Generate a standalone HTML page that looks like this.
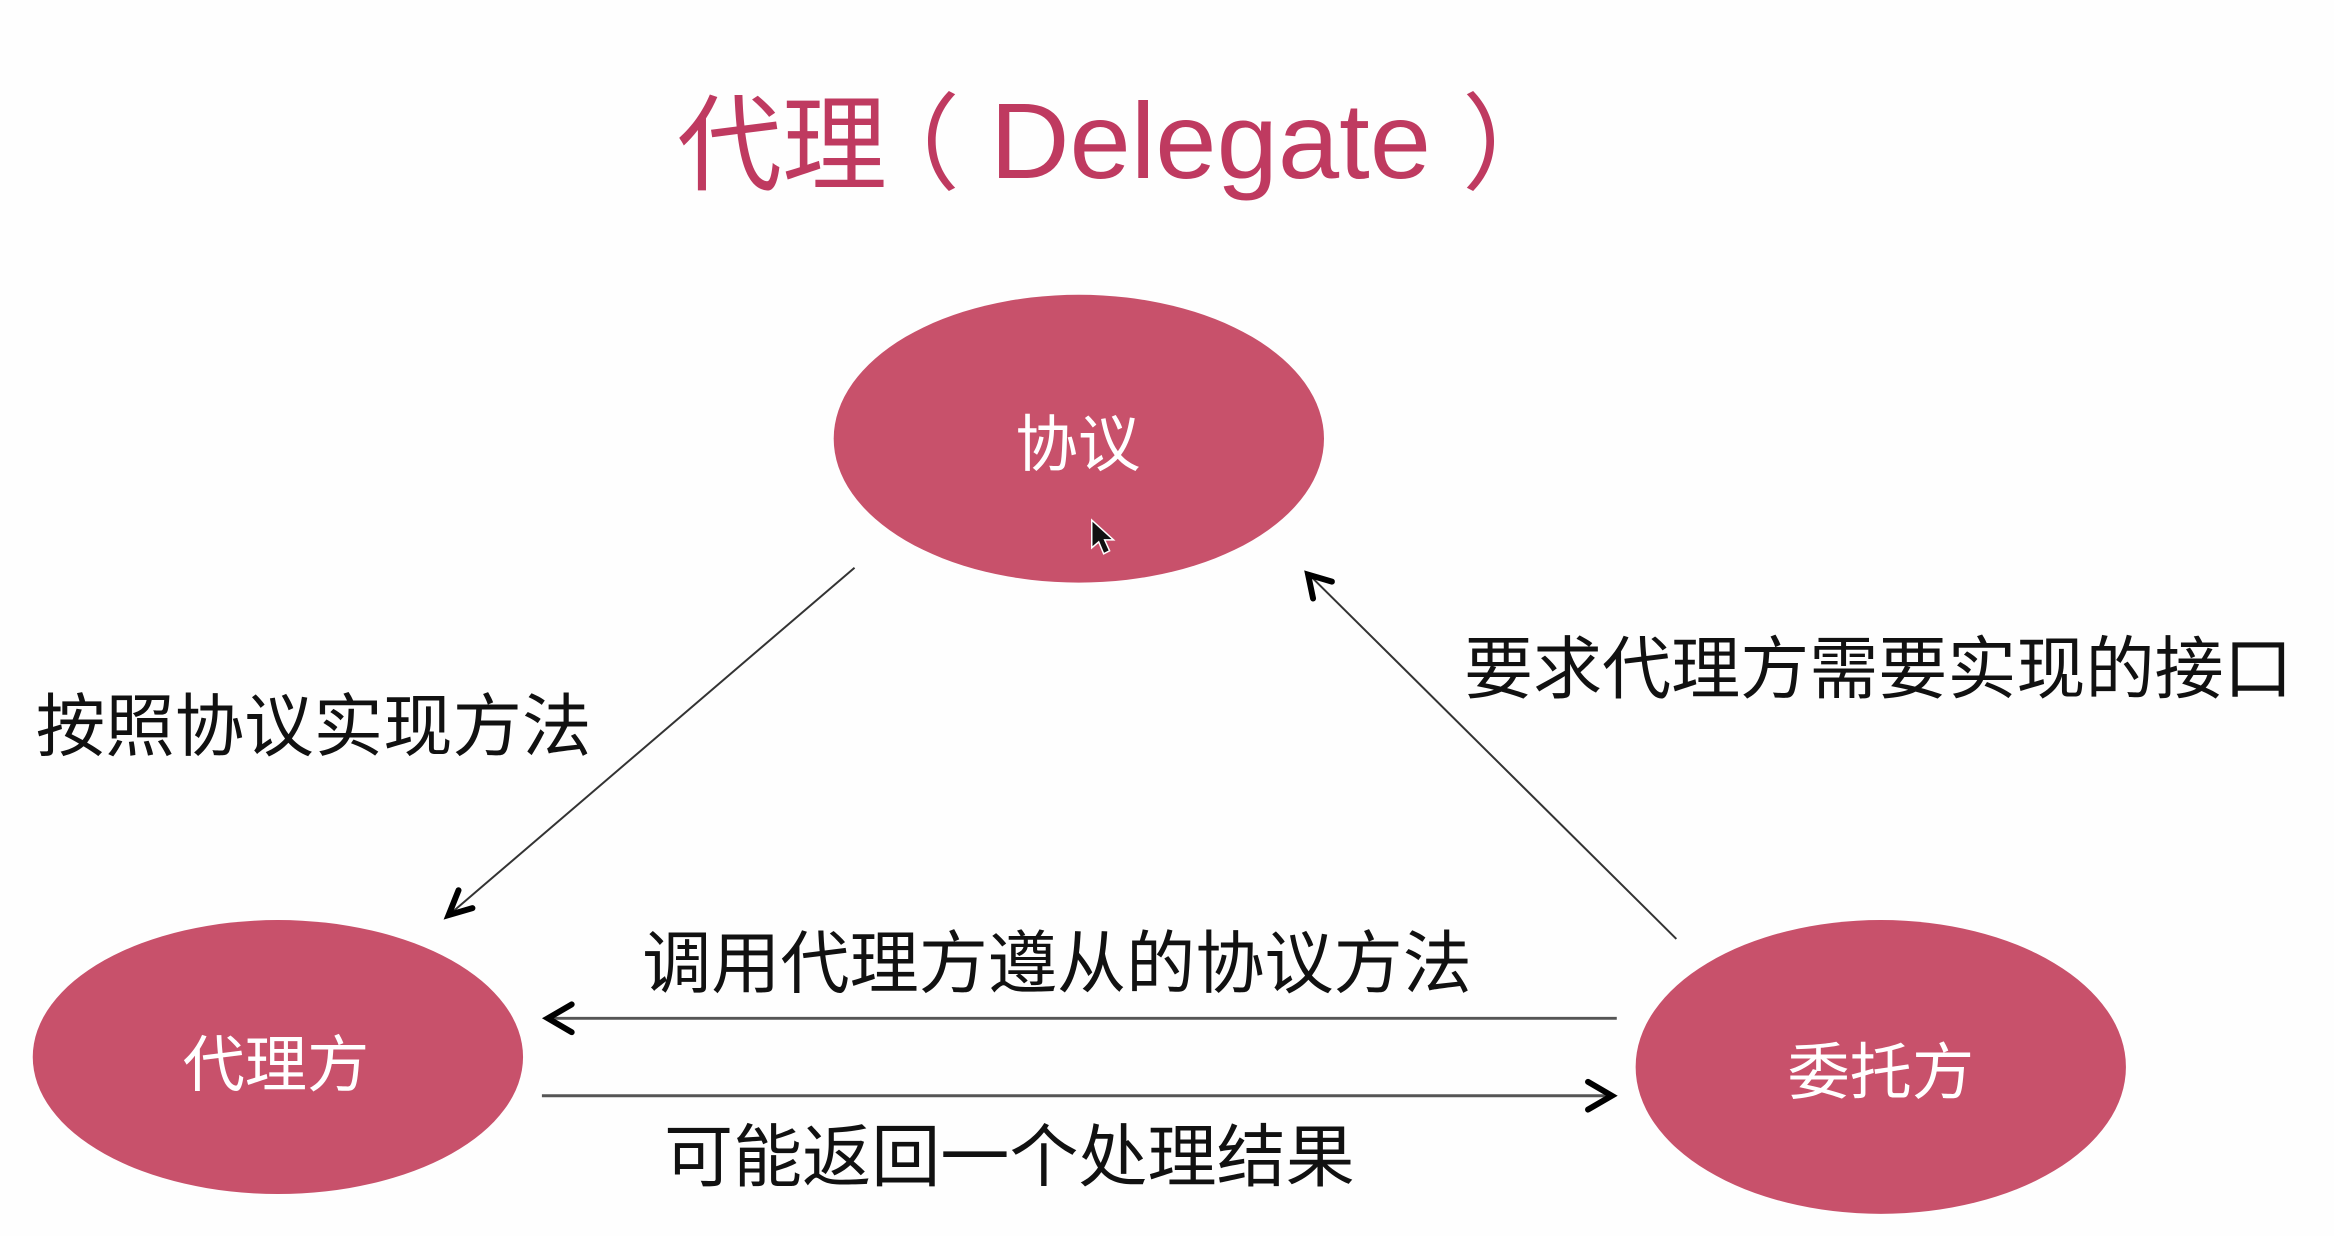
<!DOCTYPE html>
<html lang="zh">
<head>
<meta charset="utf-8">
<title>代理（Delegate）</title>
<style>
html,body{margin:0;padding:0;background:#fefefe;width:2334px;height:1236px;overflow:hidden}
svg{display:block}
text{font-family:"Liberation Sans","Noto Sans CJK SC",sans-serif}
.z{font-family:"Noto Sans CJK SC","Liberation Sans",sans-serif;font-size:69px;fill:#111}
.w{font-family:"Noto Sans CJK SC","Liberation Sans",sans-serif;font-size:62px;fill:#fff}
.t{font-family:"Noto Sans CJK SC","Liberation Sans",sans-serif;font-size:105px;fill:#bf3a60}
</style>
</head>
<body>
<svg width="2334" height="1236" viewBox="0 0 2334 1236" xmlns="http://www.w3.org/2000/svg">
<rect width="2334" height="1236" fill="#fefefe"/>
<text class="t" x="677" y="182" textLength="210" lengthAdjust="spacingAndGlyphs">代理</text>
<text class="t" x="855" y="181">（</text>
<text x="990" y="178" font-size="108" fill="#bf3a60" textLength="441" lengthAdjust="spacingAndGlyphs">Delegate</text>
<text class="t" x="1462" y="181">）</text>

<g transform="scale(0.9925)">
<ellipse cx="1087" cy="442" rx="247" ry="145" fill="#c8516b"/>
<ellipse cx="280" cy="1065" rx="247" ry="138" fill="#c8516b"/>
<ellipse cx="1895" cy="1075" rx="247" ry="148" fill="#c8516b"/>

<text class="w" x="1023" y="469" textLength="126" lengthAdjust="spacingAndGlyphs">协议</text>
<text class="w" x="184" y="1094" textLength="188" lengthAdjust="spacingAndGlyphs">代理方</text>
<text class="w" x="1801" y="1102" textLength="188" lengthAdjust="spacingAndGlyphs">委托方</text>

<path d="M1100 524 L1100 552 L1107 546 L1112 558 L1118 555 L1113 544 L1122 544 Z" fill="#111" stroke="#fff" stroke-width="1.5"/>

<g fill="none" stroke="#333" stroke-width="2">
<line x1="861" y1="572" x2="451" y2="923"/>
<line x1="1689" y1="946" x2="1318" y2="578"/>
</g>
<g fill="none" stroke="#555" stroke-width="3">
<line x1="1629" y1="1026" x2="552" y2="1026"/>
<line x1="546" y1="1104" x2="1623" y2="1104"/>
</g>
<g fill="none" stroke="#000" stroke-width="6" stroke-linecap="round" stroke-linejoin="miter">
<path d="M576 1012 L552 1026 L576 1040"/>
<path d="M1600 1090 L1624 1104 L1600 1118"/>
<path d="M462 897 L452 922 L476 915"/>
<path d="M1323 603 L1318 579 L1342 586"/>
</g>

<text class="z" x="36" y="756" textLength="560" lengthAdjust="spacingAndGlyphs">按照协议实现方法</text>
<text class="z" x="1475" y="698" textLength="835" lengthAdjust="spacingAndGlyphs">要求代理方需要实现的接口</text>
<text class="z" x="647" y="995" textLength="836" lengthAdjust="spacingAndGlyphs">调用代理方遵从的协议方法</text>
<text class="z" x="669" y="1190" textLength="696" lengthAdjust="spacingAndGlyphs">可能返回一个处理结果</text>
</g>
</svg>
</body>
</html>
